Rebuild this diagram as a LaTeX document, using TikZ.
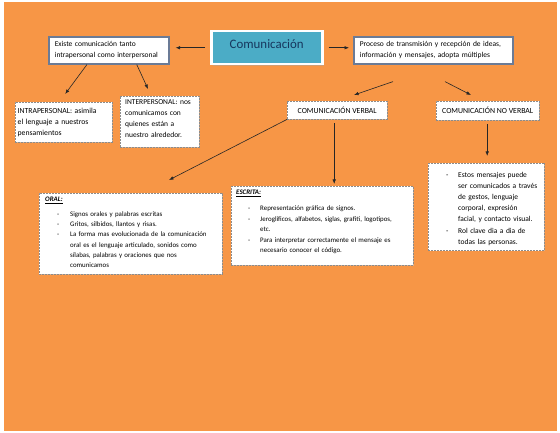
\documentclass[tikz,border=0pt]{standalone}
\usepackage{fontspec}
\setmainfont{Carlito}
\usetikzlibrary{positioning,calc,arrows.meta,shadows}
\definecolor{fondo}{HTML}{F79646}
\definecolor{azul}{HTML}{4BACC6}
\definecolor{marco}{HTML}{6B7B96}
\definecolor{tinta}{HTML}{17365D}

\newcommand{\guion}[2][13pt]{\par\noindent\hspace*{12pt}\makebox[#1][l]{-}\parbox[t]{\dimexpr\linewidth-12pt-#1\relax}{\raggedright\strut #2\strut}}

\tikzset{
  titulo/.style={draw=white, line width=2.5pt, fill=azul, anchor=north west,
    inner sep=3pt, text=tinta, font=\fontsize{12.9}{14}\selectfont,
    drop shadow={shadow xshift=1.5pt, shadow yshift=-1.5pt, fill=black!35}},
  caja/.style={draw=marco, line width=1.6pt, fill=white, anchor=north west,
    inner xsep=6pt, inner ysep=3pt, align=left, font=\fontsize{7.5}{11}\selectfont,
    drop shadow={shadow xshift=1pt, shadow yshift=-1pt, fill=black!30}},
  nota/.style={draw=black!45, dashed, dash pattern=on 2pt off 1pt, fill=white,
    anchor=north west, inner xsep=5pt, inner ysep=3pt, align=left,
    font=\fontsize{7.5}{11}\selectfont,
    drop shadow={shadow xshift=0.8pt, shadow yshift=-0.8pt, fill=black!20}},
  lista/.style={nota, font=\fontsize{6.9}{10.2}\selectfont},
  flecha/.style={-{Latex[length=4.5pt,width=3.5pt]}, black!85, line width=0.6pt}
}

\begin{document}
\begin{tikzpicture}[x=1pt,y=-1pt]
  \useasboundingbox (0,0) rectangle (560,433);
  \fill[white] (0,0) rectangle (560,433);
  \fill[fondo] (4,2) rectangle (557,431);

  % fila superior
  \node[titulo, minimum width=111pt, text height=14pt, text depth=13pt] (com) at (210,30) {Comunicación};
  \node[caja, text width=108pt, minimum height=27pt] (izq) at (48,36)
    {Existe comunicación tanto\\intrapersonal como interpersonal};
  \node[caja, text width=147pt, minimum height=27pt] (der) at (353,36)
    {Proceso de transmisión y recepción de ideas,\\información y mensajes, adopta múltiples};

  % segundo nivel
  \node[nota, inner xsep=2.5pt, text width=92pt, minimum height=40pt, font=\fontsize{7.7}{11}\selectfont] (intra) at (15,102)
    {INTRAPERSONAL: asimila\\el lenguaje a nuestros\\pensamientos};
  \node[nota, inner xsep=5pt, text width=69pt, text depth=40pt] (inter) at (120,96)
    {INTERPERSONAL: nos\\comunicamos con\\quienes están a\\nuestro alrededor.};
  \node[nota, minimum width=100pt, minimum height=18pt, align=center, font=\fontsize{7.8}{9}\selectfont] (verbal) at (287,101)
    {COMUNICACIÓN VERBAL};
  \node[nota, minimum width=103pt, minimum height=19pt, align=center, font=\fontsize{7.8}{9}\selectfont] (noverbal) at (436,101)
    {COMUNICACIÓN NO VERBAL};

  % tercer nivel
  \node[lista, inner xsep=6pt, text width=171pt, minimum height=81pt] (oral) at (39,193)
    {\textbf{\textit{\underline{ORAL:}}}\par\vspace{5pt}
     \guion{Signos orales y palabras escritas}
     \guion{Gritos, silbidos, llantos y risas.}
     \guion{La forma mas evolucionada de la comunicación\\oral es el lenguaje articulado, sonidos como\\sílabas, palabras y oraciones que nos\\comunicamos}};
  \node[lista, inner ysep=4pt, text width=172pt, text depth=66pt] (escrita) at (231,186)
    {\textbf{\textit{\underline{ESCRITA:}}}\par\vspace{6pt}
     \guion[12pt]{Representación gráfica de signos.}
     \guion[12pt]{Jeroglíficos, alfabetos, siglas, grafiti, logotipos,\\etc.}
     \guion[12pt]{Para interpretar correctamente el mensaje es\\necesario conocer el código.}};
  \node[nota, inner xsep=6pt, text width=104pt, minimum height=84pt] (desc) at (428,163)
    {\guion[12pt]{Estos mensajes puede\\ser comunicados a través\\de gestos, lenguaje\\corporal, expresión\\facial, y contacto visual.}
     \guion[12pt]{Rol clave dia a dia de\\todas las personas.}};

  % extremos sueltos
  \coordinate (d1) at ($(der.south west)+(40,17)$);
  \coordinate (d2) at ($(der.south west)+(92,17)$);
  \coordinate (o1) at ($(oral.north west)+(130,-13)$);
  \coordinate (v1) at ($(verbal.south)+(-3,4)$);
  \coordinate (n1) at ($(noverbal.south)+(-0.5,4)$);

  % conectores
  \draw[flecha, shorten <=5pt, shorten >=6pt] (com.west) -- (com.west -| izq.east);
  \draw[flecha, shorten <=5pt, shorten >=4pt] (com.east) -- (com.east -| der.west);
  \draw[flecha] ($(izq.south west)!0.32!(izq.south east)$) -- ($(intra.north)+(1.5,-8)$);
  \draw[flecha] ($(izq.south west)!0.73!(izq.south east)$) -- ($(inter.north west)+(28,-7)$);
  \draw[flecha] (d1) -- ($(verbal.north west)+(67,-6)$);
  \draw[flecha] (d2) -- ($(noverbal.north west)+(35,-6)$);
  \draw[flecha] (verbal.south west) -- (o1);
  \draw[flecha] (v1) -- ($(v1 |- escrita.north)+(0,-2)$);
  \draw[flecha] (n1) -- ($(n1 |- desc.north)+(0,-7)$);
\end{tikzpicture}
\end{document}
